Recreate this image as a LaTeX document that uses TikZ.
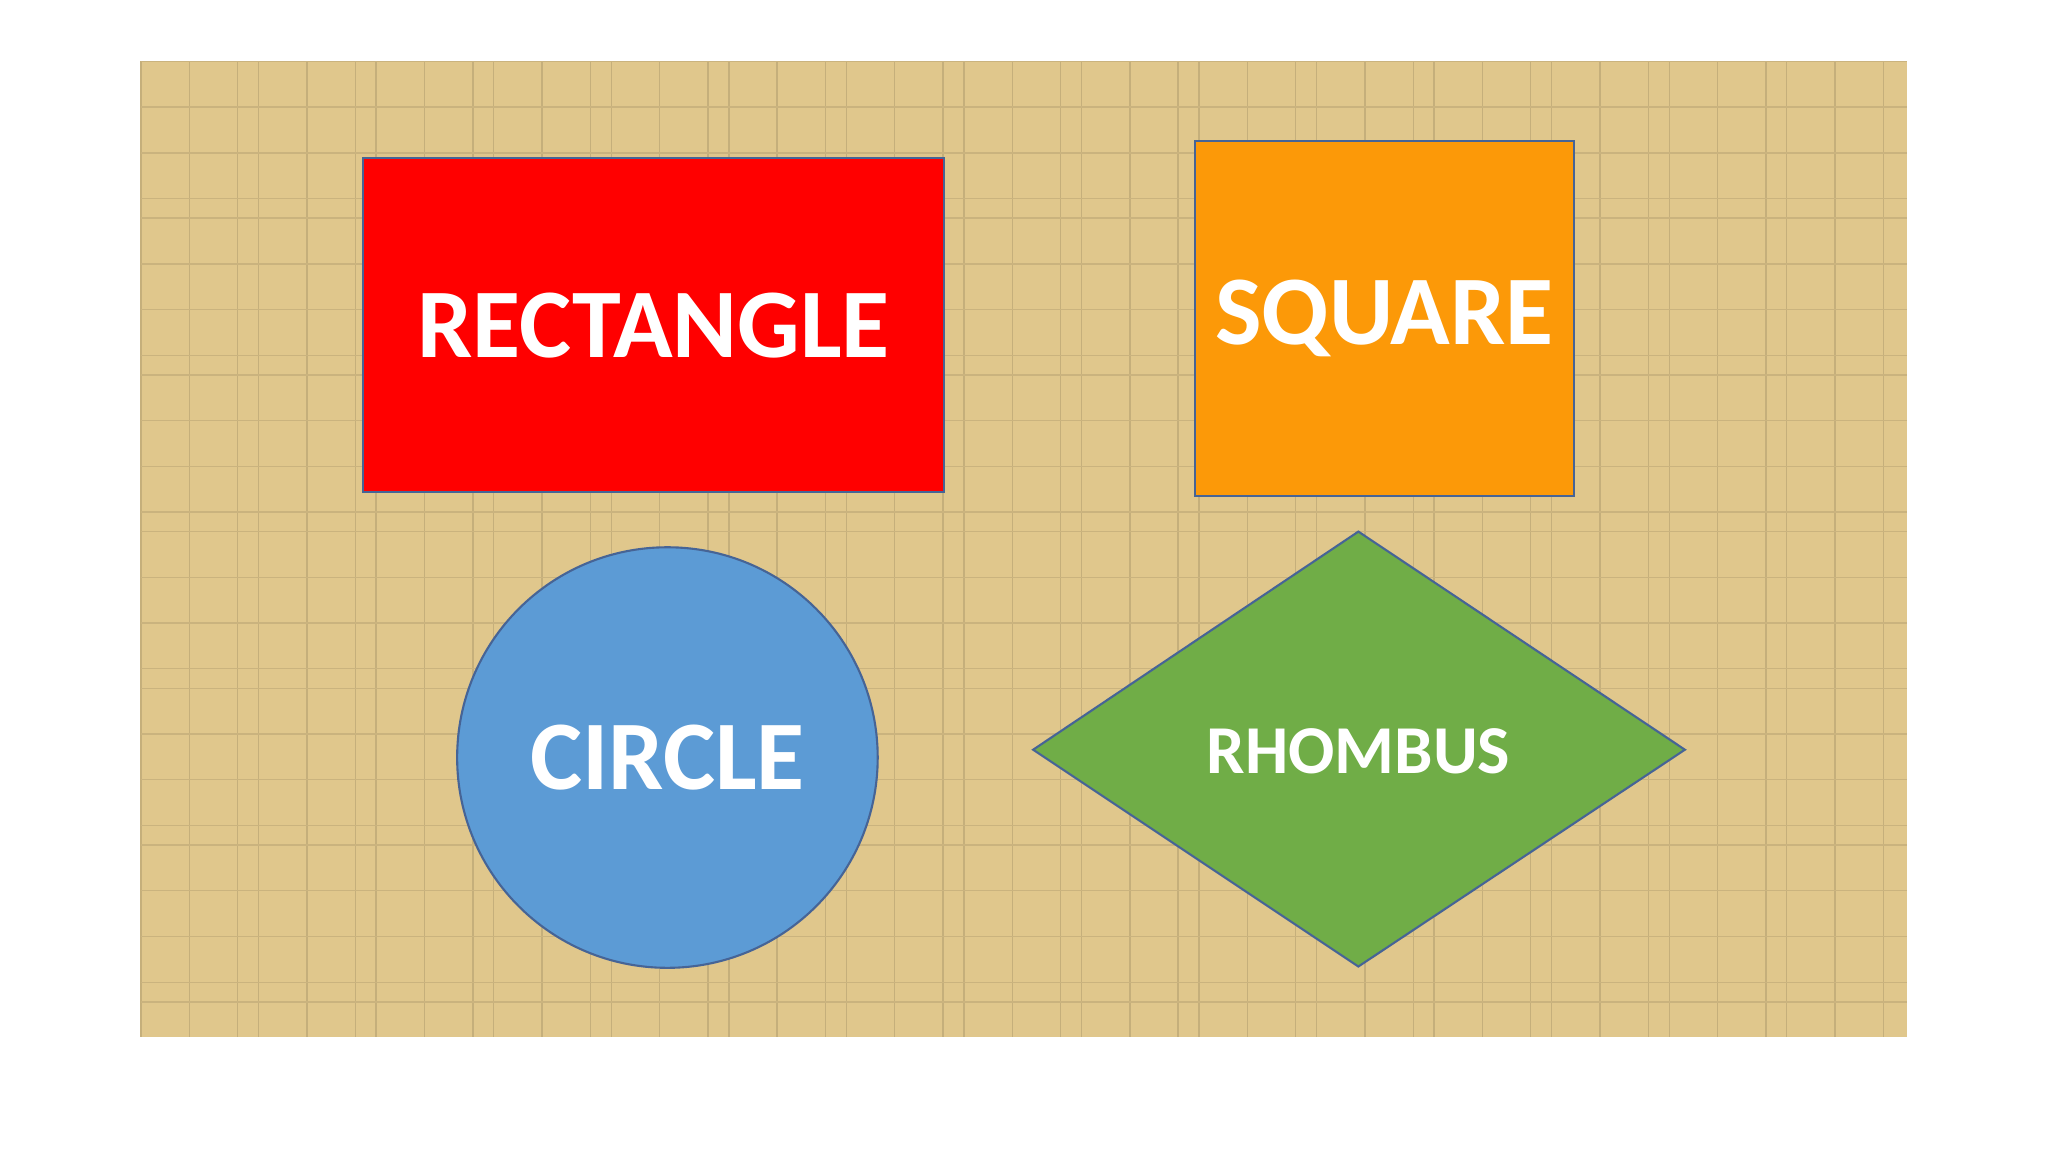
\documentclass[tikz,border=0pt]{standalone}
\usepackage{fontspec}
\setmainfont{Carlito}
\usetikzlibrary{shapes.geometric}
\definecolor{bgtan}{RGB}{224,199,140}
\definecolor{edge}{RGB}{70,100,150}
\definecolor{sqor}{RGB}{252,153,8}
\definecolor{cblue}{RGB}{92,155,213}
\definecolor{rgreen}{RGB}{112,173,71}
\tikzset{lbl/.style={text=white,font=\bfseries\fontsize{28}{32}\selectfont},
 shp/.style={draw=edge,line width=0.6pt}}
\begin{document}
\begin{tikzpicture}[x=0.013061cm,y=-0.013061cm]
\useasboundingbox (0,0) rectangle (1568,882);
\fill[white] (0,0) rectangle (1568,882);
\fill[bgtan] (108,47) rectangle (1460,794);
\foreach \i in {0,...,44}{
  \draw[black!12!bgtan,line width=0.4pt] ({108+30*\i+7*mod(\i,3)},47) -- ++(0,747);
}
\foreach \i in {0,...,24}{
  \draw[black!10!bgtan,line width=0.4pt] (108,{47+30*\i+5*mod(\i,4)}) -- ++(1352,0);
}
\node[shp,fill=red,minimum width=445*0.013061cm,minimum height=256*0.013061cm,inner sep=0pt,lbl] (rect) at (500.5,249) {RECTANGLE};
\node[shp,fill=sqor,minimum width=290*0.013061cm,minimum height=272*0.013061cm,inner sep=0pt,lbl] (sq) at (1060,244) {SQUARE};
\node[shp,fill=cblue,circle,minimum size=322*0.013061cm,inner sep=0pt,lbl] (circ) at (511,580) {CIRCLE};
\draw[shp,fill=rgreen] (791,574) -- (1040,407) -- (1290,574) -- (1040,740) -- cycle;
\node[text=white,font=\bfseries\fontsize{19.5}{22}\selectfont] (rh) at (1040,575) {RHOMBUS};
\end{tikzpicture}
\end{document}
